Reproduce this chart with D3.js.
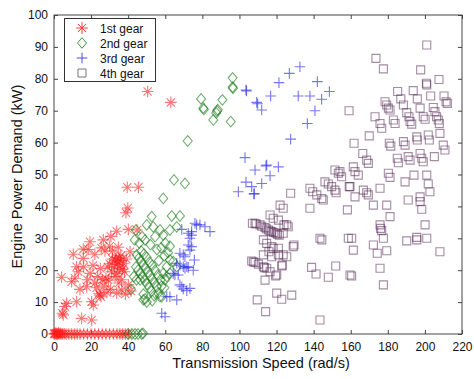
<!DOCTYPE html>
<html><head><meta charset="utf-8">
<script src="https://cdn.jsdelivr.net/npm/d3@7"></script>
<style>
html,body{margin:0;padding:0;background:#fff;}
text{font-family:"Liberation Sans",Arial,sans-serif;}
</style></head>
<body><svg id="c" width="474" height="379"></svg>
<script>
// ---- data (x: rad/s, y: kW) ----
const seriesNames = ["1st gear","2nd gear","3rd gear","4th gear"];
const xTicks = [0,20,40,60,80,100,120,140,160,180,200,220];
const yTicks = [0,10,20,30,40,50,60,70,80,90,100];

const gear1 = [
[50.5,76],[63,72.6],[39.5,46],[45.5,46],[38.8,38],[39.8,39.5],[40.1,32.8],[44.8,32.6],
[19.4,28.9],[26.6,29.5],[30.6,30.6],[33.8,32.2],[10.4,25],[15.8,26.6],[15.8,23.7],[34.7,27.2],[41,25.8],
[4.1,17.8],[9.5,16.4],[11.3,17.5],[12.2,21.1],[13.1,19.5],[17.6,14.8],
[24.8,12.2],[24.3,12.6],[25.3,11.7],[20.3,10.1],[21.2,9.1],
[6.8,9.6],[5.9,8.6],[5,6],[4.5,6.5],[12.2,10.1],[14.9,4.9],[20.3,4.4],
[40.1,15.4],[36.5,13.8],[33.8,12.8],[29.3,16.9],[32.9,18],
[30,22],[31.5,23.5],[32.5,21],[33.5,24],[34.5,22.5],[35.5,20.5],[36,24.5],[34,19],[31,19.5],[29,21],
[28,17.5],[27,15],[26,17],[25,20.5],[23.5,18],[22,16],[21,21.5],[19.5,19],[18,17],[36.5,17],
[37.5,22],[38,19.5],[39,23.5],[35,16],[30.5,14],[28.5,13],[23,14.5],[36,23],[33,23.2],[34.2,21.8],
[35.2,23.8],[37,20.3],[38.5,12.5],[41.5,13.5],[16,21],[14,14],[22,25],[25.5,27],[27.5,26],[30,27.5],[31.5,26],[18.5,26.5],
[0,0],[0.3,0.2],[0.6,0],[1,0.3],[1.3,0],[1.7,0.1],[2,0],[2.4,0.3],[2.8,0],[3.3,0.2],[3.8,0],[4.5,0],
[5.5,0.1],[6.5,0],[8,0],[9.5,0],[11,0],[12.5,0],[14,0],[16,0],[18,0],[20,0],[22,0],[24,0],[26,0],
[28,0],[30,0],[32,0],[34,0],[35.5,0],[37,0],[38.5,0],[40,0]
];

const gear2 = [
[96.3,80.3],[96.3,77.4],[96.5,77.0],[79.3,73.7],[80.5,70.8],[80.8,70.4],[87.9,69.9],[88.3,70.3],[87.5,69.3],
[90.8,73.4],[85.9,67.1],[95.3,66.6],[72.1,60.5],[64.7,48.3],[70.6,47.2],
[58.9,42.5],[52.7,36.8],[63.5,37],[67.9,37],[50,34.2],[53.5,33.6],[57.2,32.6],[44.2,32.6],[49.1,29.5],
[54.5,30.5],[58.9,31],[62.5,32.6],[66.2,33.6],
[44.6,24.8],[45.8,23.8],[47,22.7],[48.2,21.6],[49.4,20.5],[50.6,19.4],[51.8,18.3],[53,17.2],[54.2,16],[55.4,14.8],
[44.2,21],[45.4,20],[46.6,18.9],[47.8,17.8],[49,16.7],[50.2,15.6],[51.4,14.5],[52.6,13.4],
[47,26],[48.5,25],[50,24],[51.5,22.5],[53,21.5],[54.5,20],[56,18.5],[57.5,17],
[44.5,17],[46.4,17],[48.2,12.5],[49.1,11],[50,10],[58.1,11.7],[56.2,12.8],[48.2,10.7],[57.2,11.7],[59.9,17],
[60.8,21.1],[58.9,19],[60.8,18],[62.5,19],[64.3,22.7],[66.2,21.1],[59.5,24.5],[61.5,25.5],[57.8,27],
[55.5,26.5],[52,28],[60,28.5],[62.5,27.5],[56.5,23],[58,15],[59.5,14.5],[54,12],[53,10.5],[62.5,23.2],
[47.5,30.5],[46,28.5],[43.5,29.5],[41.5,14],[43,18],
[40,0],[42,0],[43.7,0],[45.3,0],[47.3,0],[48,0.2]
];

const gear3 = [
[132.6,83.8],[126.9,81.7],[121.3,78.8],[142,79.1],[103.5,76.5],[103.8,76.2],[116.8,74.6],[131.7,74.6],
[138,74.6],[148.5,76],[144.3,73.6],[109.3,72.6],[109.8,72.2],[112,70.2],[140.7,70],[136.6,66],[127.6,61.1],
[103,55.3],[108.4,51.4],[114.7,53],[114.3,52.7],[121,52.4],[116.5,49.6],[103.5,47.6],[112,47.2],
[106.6,46.2],[107.8,43.9],[99.4,44.6],[108,44],
[68.9,32.8],[76,34.7],[76.9,34.2],[78.7,34.2],[81.4,33.6],[84.1,32.1],[72.4,31.6],[74.2,31],[73.3,30],
[74.2,32.1],[72.4,27.9],[74.2,27.4],[73.3,26.3],[67.9,25.3],[69.7,24.8],[75.7,23.2],[70.6,24.2],
[66.2,22.2],[67.9,21.6],[69.7,21.1],[70.6,20.6],[71.6,21.1],[72.4,20.9],[75.1,20],[64.3,19],[67,18.5],
[65.2,18.5],[67.9,15.4],[68.9,14.8],[69.7,14.1],[71.6,13.6],[73.3,14.3],[62.5,11.7],[60.8,11.7],
[66.2,10.7],[58.1,6.5],[59.9,5.4]
];

const gear4 = [
[201,90.6],[173.6,86.4],[177.6,83.1],[197.7,82.8],[207.6,79.8],[200.8,78.6],[201,78.1],[159.1,70],
[185.3,76],[193.7,76.3],[187,73.7],[195.9,73.7],[203.1,74.6],[210.3,74.6],[211.4,72.8],[212.1,72.3],
[178.5,72.8],[179.4,71.8],[180.3,70.8],[181.2,70.2],[188.4,71.8],[190.2,69.4],[191.4,68.1],
[197.4,70.8],[199.1,68.1],[200.1,67.3],[204.5,71],[205.4,69.7],[206.3,68.1],[207.2,67.1],[207.8,66],
[173.1,68.1],[175.8,66],[176.7,64.5],[183,67.1],[183.9,66],[192,66.6],[192.9,65.8],
[208.1,62.9],[170,62.1],[161.8,59.8],[180.8,59.8],[181.6,58.9],[188.4,60.3],[189.3,59.2],
[195.6,61.8],[195.9,60.8],[201.8,62.4],[202.4,60.8],[209.9,59.2],[210.8,57.7],
[166.5,56.6],[168.6,54.5],[169.5,53.5],[185.1,55.1],[185.7,53.7],[191,55.6],[192,54.5],
[197.4,56.6],[198.3,55.1],[199.1,54],[205.1,55.6],
[161.4,52.4],[162.3,50.9],[164.1,49.8],[154.2,50.9],[155.1,49.3],[151.5,51.4],[153.3,50.4],
[180.3,50.4],[181.2,49.1],[189.3,47.7],[194.1,49.8],[201,49.8],[201.8,47],
[159.2,46.2],[166.8,45.1],[175.8,45.7],[146.1,47.7],[147.9,47],[149.7,46.2],[151.5,45.1],[152.1,44.3],
[138,45.7],[139.5,44.6],[141.7,43.6],[144.4,42.5],[145.2,42],[127.6,44.1],[159.6,46.2],[162.3,43],
[168.6,44.3],[169.5,43.6],[202.7,44.6],[197.4,43],
[158.2,38.9],[138,39.4],[121.9,40.4],[123.6,39.4],[172.2,40.4],[179.4,40.4],[191,42],[197.4,41.5],[198.3,39.1],
[181.2,36.8],[200.1,34.2],[175.8,34.2],[176.1,33.1],[176.7,32.4],[177.6,30],
[172.2,27.9],[174.3,25.3],[179.4,26.1],[190.2,29.2],[195.6,30.3],[195.6,29.5],[201,30],
[208.1,25.8],[161.4,26.3],[160.5,30],[158.7,30],[175.8,20.6],[177.6,15.4],[160.5,18.2],
[116.5,37.3],[118.2,36.3],[121,35.7],[125.5,34.2],[126.3,33.6],[124,34.2],
[107,34.7],[108.4,34.7],[111.1,34.2],[113.8,33.4],[115.6,32.6],[117.4,32.1],[119.7,31.6],[121.5,31],[123.6,31.6],
[109,34.5],[112,33.8],[114.5,33],[116.5,32.3],[118.5,31.8],[120.5,31.3],
[143.4,30],[144.4,29.5],[112.9,29.5],[114.7,28.4],[117.4,27.4],[118.2,26.9],[121,26.9],[129,27.4],[129.4,27.9],
[112.9,24.8],[117.4,24.2],[121,24.8],[125.5,24.2],[115.9,25.8],[123.6,24.8],
[106.6,22.9],[108.4,22.4],[110.2,21.9],[112.9,21.1],[114.7,20.6],[116.5,19.5],[107.5,22.6],[113.5,20.8],
[123.1,21.6],[122.8,21.3],[119.5,18.2],[120.1,18.5],[113.8,16.9],
[138.9,20.9],[141.3,18.8],[147.9,17.8],[151.9,21.3],[159.6,18.5],
[120.1,12.8],[122.8,10.9],[128.2,12.2],[109.6,10.7],[114.1,7],[143.4,4.4]
];

// ---- layout ----
const svg = d3.select("#c");
const L = 54, R = 462, T = 15, B = 334;
const x = d3.scaleLinear().domain([0,220]).range([L,R]);
const y = d3.scaleLinear().domain([0,100]).range([B,T]);

// custom marker shapes (size = half-width in px)
const shapes = {
  asterisk: {draw(ctx, r){ const d = r*0.707;
    ctx.moveTo(-r,0);ctx.lineTo(r,0);ctx.moveTo(0,-r);ctx.lineTo(0,r);
    ctx.moveTo(-d,-d);ctx.lineTo(d,d);ctx.moveTo(-d,d);ctx.lineTo(d,-d);}},
  diamond: {draw(ctx, r){ const h = r*1.18;
    ctx.moveTo(0,-h);ctx.lineTo(r,0);ctx.lineTo(0,h);ctx.lineTo(-r,0);ctx.closePath();}},
  plus: {draw(ctx, r){ ctx.moveTo(-r,0);ctx.lineTo(r,0);ctx.moveTo(0,-r);ctx.lineTo(0,r);}},
  square: {draw(ctx, r){ ctx.rect(-r,-r,2*r,2*r);}}
};

const series = [
  {name:seriesNames[0], data:gear1, shape:"asterisk", r:5.8, color:"#ff1a1a", op:0.6, legendColor:"#ff3a3a"},
  {name:seriesNames[1], data:gear2, shape:"diamond", r:4.5, color:"#157a15", op:0.6, legendColor:"#3a9a3a"},
  {name:seriesNames[2], data:gear3, shape:"plus", r:5.3, color:"#1a1ae6", op:0.6, legendColor:"#4a4ae6"},
  {name:seriesNames[3], data:gear4, shape:"square", r:4, color:"#4a1a4a", op:0.5, legendColor:"#777777"}
];

// axes box and ticks
const axisColor = "#444";
svg.append("rect").attr("x",L).attr("y",T).attr("width",R-L).attr("height",B-T)
  .attr("fill","none").attr("stroke",axisColor).attr("stroke-width",1);

const gx = svg.append("g").attr("transform",`translate(0,${B})`)
  .call(d3.axisBottom(x).tickValues(xTicks).tickSize(-4).tickPadding(8).tickFormat(d3.format("d")));
const gxt = svg.append("g").attr("transform",`translate(0,${T})`)
  .call(d3.axisTop(x).tickValues(xTicks).tickSize(-4).tickFormat(""));
const gy = svg.append("g").attr("transform",`translate(${L},0)`)
  .call(d3.axisLeft(y).tickValues(yTicks).tickSize(-4).tickPadding(6).tickFormat(d3.format("d")));
const gyr = svg.append("g").attr("transform",`translate(${R},0)`)
  .call(d3.axisRight(y).tickValues(yTicks).tickSize(-4).tickFormat(""));
[gx,gxt,gy,gyr].forEach(g=>{
  g.select(".domain").remove();
  g.selectAll(".tick line").attr("stroke",axisColor);
  g.selectAll("text").attr("fill","#111").style("font-size","12px").style("font-family","'Liberation Sans',Arial,sans-serif");
});

// points
series.forEach(s=>{
  const sym = d3.symbol().type(shapes[s.shape]).size(s.r);
  svg.append("g").selectAll("path").data(s.data).join("path")
    .attr("transform",d=>`translate(${x(d[0])},${y(d[1])})`)
    .attr("d",sym)
    .attr("fill","none")
    .attr("stroke",s.color)
    .attr("stroke-opacity",s.op)
    .attr("stroke-width",1.1);
});

// axis titles
svg.append("text").attr("x",(L+R)/2+3).attr("y",368).attr("text-anchor","middle")
  .style("font-size","14.5px").attr("fill","#111").text("Transmission Speed (rad/s)");
svg.append("text").attr("transform",`translate(22,${(T+B)/2+2}) rotate(-90)`).attr("text-anchor","middle")
  .style("font-size","14.5px").attr("fill","#111").text("Engine Power Demand (kW)");

// legend
const lg = svg.append("g");
lg.append("rect").attr("x",64.5).attr("y",18.5).attr("width",91).attr("height",63)
  .attr("fill","#fff").attr("stroke","#333").attr("stroke-width",1);
series.forEach((s,i)=>{
  const yy = 28 + i*15;
  lg.append("path").attr("transform",`translate(82,${yy})`)
    .attr("d",d3.symbol().type(shapes[s.shape]).size(s.r)())
    .attr("fill","none").attr("stroke",s.legendColor).attr("stroke-width",1);
  lg.append("text").attr("x",100).attr("y",yy+4.5).style("font-size","12px").attr("fill","#111").text(s.name);
});
</script>
</body></html>
